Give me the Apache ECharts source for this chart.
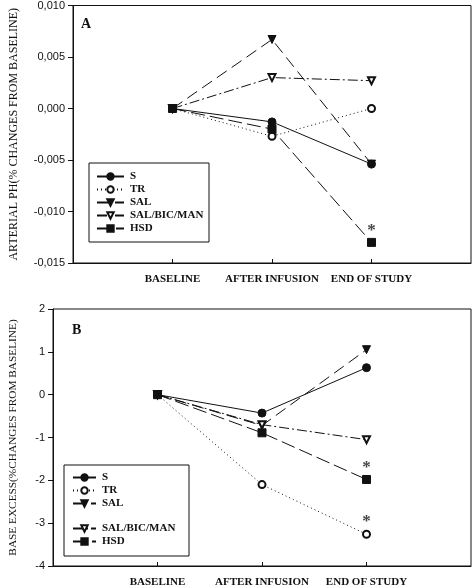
<!DOCTYPE html>
<html>
<head>
<meta charset="utf-8">
<script src="https://cdn.jsdelivr.net/npm/echarts@6/dist/echarts.min.js"></script>
<style>
html, body { margin: 0; padding: 0; background: #fff; }
#chart { width: 474px; height: 588px; }
</style>
</head>
<body>
<div id="chart"></div>
<script>
// categories (empty ends give the margin on both sides of the plot)
var categories = ['', 'BASELINE', 'AFTER INFUSION', 'END OF STUDY', ''];
var pointCats = ['BASELINE', 'AFTER INFUSION', 'END OF STUDY'];
var groups = ['S', 'TR', 'SAL', 'SAL/BIC/MAN', 'HSD'];

// panel A - arterial pH
var phS = [0, -0.0013, -0.0054];
var phTR = [0, -0.0027, 0.0000];
var phSAL = [0, 0.0067, -0.0054];
var phSBM = [0, 0.0030, 0.0027];
var phHSD = [0, -0.0020, -0.0130];
var phStars = [['END OF STUDY', -0.0116]];

// panel B - base excess
var beS = [0, -0.43, 0.63];
var beTR = [0, -2.10, -3.26];
var beSAL = [0, -0.72, 1.05];
var beSBM = [0, -0.70, -1.05];
var beHSD = [0, -0.89, -1.98];
var beStars = [['END OF STUDY', -1.64], ['END OF STUDY', -2.89]];

var ink = '#111';
var serif = 'Liberation Serif';

function pairs(vals) {
    return pointCats.map(function (c, i) { return [c, vals[i]]; });
}

// line style / symbol per group
var looks = {
    'S': { symbol: 'circle', rotate: 0, type: 'solid', size: 8 },
    'TR': { symbol: 'emptyCircle', rotate: 0, type: [1, 3], size: 7 },
    'SAL': { symbol: 'triangle', rotate: 180, type: [12, 6], size: 8 },
    'SAL/BIC/MAN': { symbol: 'emptyTriangle', rotate: 180, type: [10, 3, 2, 3], size: 7 },
    'HSD': { symbol: 'rect', rotate: 0, type: [14, 5], size: 8 }
};

function lineSeries(name, vals, idx) {
    var lk = looks[name];
    return {
        name: name,
        type: 'line',
        xAxisIndex: idx,
        yAxisIndex: idx,
        data: pairs(vals),
        symbol: lk.symbol,
        symbolRotate: lk.rotate,
        symbolSize: lk.size,
        showAllSymbol: true,
        color: ink,
        itemStyle: { color: ink, borderColor: ink, borderWidth: 1 },
        lineStyle: { color: ink, width: 1, type: lk.type },
        animation: false,
        z: 3
    };
}

function starSeries(vals, idx) {
    return {
        type: 'scatter',
        xAxisIndex: idx,
        yAxisIndex: idx,
        data: vals,
        symbolSize: 1,
        itemStyle: { color: 'rgba(0,0,0,0)' },
        label: {
            show: true, position: 'inside', formatter: '*',
            fontSize: 17, fontWeight: 'bold', color: ink, fontFamily: serif, offset: [0, 3]
        },
        animation: false
    };
}

function xAxis(idx) {
    return {
        type: 'category',
        gridIndex: idx,
        data: categories,
        boundaryGap: false,
        axisLine: { onZero: false, lineStyle: { color: ink, width: 1 } },
        axisTick: {
            inside: true, length: 4, lineStyle: { color: ink },
            interval: function (i, v) { return v !== ''; }
        },
        axisLabel: {
            interval: 0, margin: 11, color: ink, fontSize: 11,
            fontFamily: serif, fontWeight: 'bold'
        },
        splitLine: { show: false }
    };
}

function yAxis(idx, min, max, step, name, fmt, gap, nameSize) {
    return {
        type: 'value',
        gridIndex: idx,
        min: min, max: max, interval: step,
        name: name,
        nameLocation: 'middle',
        nameGap: gap,
        nameTextStyle: { color: ink, fontSize: nameSize, fontFamily: serif },
        axisLine: { show: true, onZero: false, lineStyle: { color: ink, width: 1 } },
        axisTick: { show: true, length: 5, lineStyle: { color: ink } },
        axisLabel: { color: ink, fontSize: 11, fontFamily: 'Liberation Sans', margin: 8, formatter: fmt },
        splitLine: { show: false }
    };
}

function legendText() {
    return { color: ink, fontSize: 11, fontFamily: serif, fontWeight: 'bold', padding: [0, 0, 0, 1] };
}

var chart = echarts.init(document.getElementById('chart'));

var option = {
    backgroundColor: '#fff',
    animation: false,
    grid: [
        { left: 66, right: 3, top: 5, height: 258, show: true, borderColor: ink, borderWidth: 1 },
        { left: 48, right: 2, top: 309, height: 258, show: true, borderColor: ink, borderWidth: 1 }
    ],
    xAxis: [xAxis(0), xAxis(1)],
    yAxis: [
        yAxis(0, -0.015, 0.010, 0.005, 'ARTERIAL PH(% CHANGES FROM BASELINE)',
            function (v) { return v.toFixed(3).replace('.', ','); }, 53, 12),
        yAxis(1, -4, 2, 1, 'BASE EXCESS(%CHANGES FROM BASELINE)',
            function (v) { return String(Math.round(v)); }, 34, 11.3)
    ],
    legend: [
        {
            data: groups, orient: 'vertical', left: 96, top: 171,
            itemWidth: 27, itemHeight: 8, itemGap: 2, padding: 0,
            textStyle: legendText()
        },
        {
            data: groups.slice(0, 3), orient: 'vertical', left: 72, top: 472,
            itemWidth: 23, itemHeight: 8, itemGap: 2, padding: 0,
            textStyle: legendText()
        },
        {
            data: groups.slice(3), orient: 'vertical', left: 72, top: 523,
            itemWidth: 23, itemHeight: 8, itemGap: 2, padding: 0,
            textStyle: legendText()
        }
    ],
    graphic: [
        { type: 'rect', shape: { x: 89, y: 163, width: 120, height: 79 },
          style: { fill: 'none', stroke: ink, lineWidth: 1 }, z: 10 },
        { type: 'rect', shape: { x: 64, y: 465, width: 125, height: 91 },
          style: { fill: 'none', stroke: ink, lineWidth: 1 }, z: 10 },
        { type: 'text', left: 81, top: 17,
          style: { text: 'A', fill: ink, font: 'bold 14px "Liberation Serif"' } },
        { type: 'text', left: 72, top: 323,
          style: { text: 'B', fill: ink, font: 'bold 14px "Liberation Serif"' } }
    ],
    series: [
        lineSeries('S', phS, 0),
        lineSeries('TR', phTR, 0),
        lineSeries('SAL', phSAL, 0),
        lineSeries('SAL/BIC/MAN', phSBM, 0),
        lineSeries('HSD', phHSD, 0),
        starSeries(phStars, 0),
        lineSeries('S', beS, 1),
        lineSeries('TR', beTR, 1),
        lineSeries('SAL', beSAL, 1),
        lineSeries('SAL/BIC/MAN', beSBM, 1),
        lineSeries('HSD', beHSD, 1),
        starSeries(beStars, 1)
    ]
};
chart.setOption(option);
</script>
</body>
</html>
